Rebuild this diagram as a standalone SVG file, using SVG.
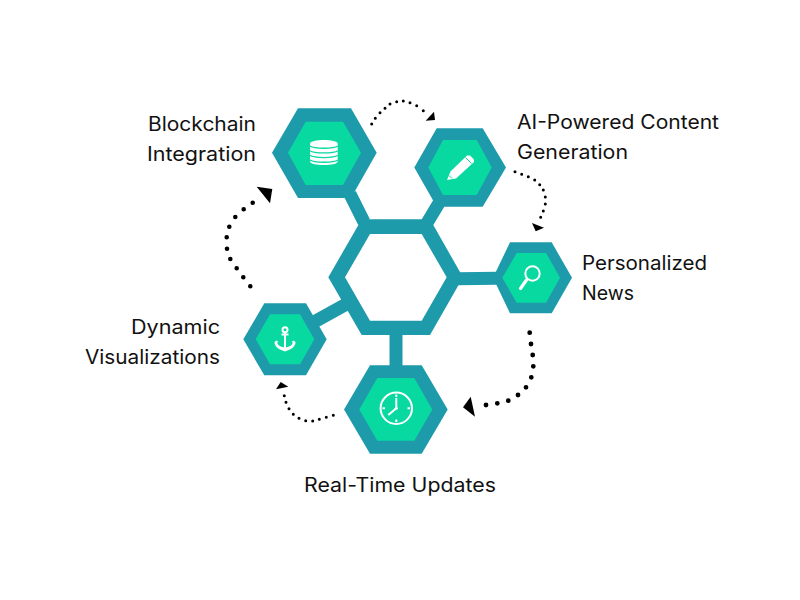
<svg xmlns="http://www.w3.org/2000/svg" width="800" height="600" viewBox="0 0 800 600">
<style>
.outer{fill:#1e9bab}
.inner{fill:#08d9a0}
.bar{stroke:#1e9bab;stroke-width:13;fill:none}
.dots{fill:none;stroke:#000;stroke-linecap:round}
.head{fill:#000}
.ico{fill:none;stroke:#fff;stroke-width:2}
.icf{fill:#fff}
.cut{fill:none;stroke:#08d9a0}
text{font-family:"Inter","Liberation Sans",sans-serif;font-size:19.5px;fill:#111}
</style>
<rect width="800" height="600" fill="#fff"/>
<g id="connectors">
<path class="bar" d="M350 194L364 222M439 203L427 223M458 278.700L497 278.300M314 322L352 301M396 330V368"/>
<path class="dots" stroke-width="3" d="M371.700 124h0M375.300 118.300h0M380 112.700h0M385 108.300h0M390 104h0M396.700 101.700h0M403.300 101h0M410 102.700h0M416.700 105.700h0M423.300 110.700h0"/>
<polygon class="head" points="425.700,120.700 434,111.700 435,120"/>
<path class="dots" stroke-width="3" d="M515 171.700h0M521.700 174.300h0M528.300 176.700h0M534.700 180h0M539.700 184.700h0M543.300 190h0M545.300 197h0M545.300 204h0M543.300 211h0M540.700 217.300h0"/>
<polygon class="head" points="532,223 544,227.700 535.700,231.300"/>
<path class="dots" stroke-width="4.800" d="M529.700 332.700h0M531 344h0M532.700 355h0M533.300 366.300h0M531.300 377.300h0M526 387.300h0M518 395h0M508.300 400.700h0M497.300 403.300h0M486 405h0"/>
<polygon class="head" points="470.700,396.700 463,407.300 475,416.700"/>
<path class="dots" stroke-width="3" d="M333.300 415.300h0M326.300 417.300h0M319.300 419.300h0M312.700 421h0M305.700 420.700h0M299 418.300h0M293.300 414.300h0M289 408.700h0M286 402.300h0M284.300 395.700h0"/>
<polygon class="head" points="276,389.300 280.700,382 288.300,386.700"/>
<path class="dots" stroke-width="4.600" d="M250.300 286.300h0M243.300 277.300h0M236.700 268.300h0M230.300 259h0M227 248.700h0M226.700 237.300h0M229.300 226.700h0M235.300 217h0M243.700 209.300h0M252.700 202.700h0"/>
<polygon class="head" points="256.700,186.700 272.300,189 270,203.300"/>
</g>
<g id="center">
<path class="outer" fill-rule="evenodd" d="M361.700 219.300H430L463 277.300L430 335H361.700L328.300 277.300ZM370 234L345 277.300L370 320.700H421.700L446.700 277.300L421.700 234Z"/>
</g>
<g id="node-blockchain">
<polygon class="outer" points="298,108.300 351,108.300 376.700,152.700 351,198 298,198 272,152.700"/>
<polygon class="inner" points="305.700,121.700 343,121.700 361,152.700 343,185 305.700,185 288,152.700"/>
<path class="icf" d="M310 143.500C310 138.800 337.700 138.800 337.700 143.500V161.500C337.700 166.200 310 166.200 310 161.500Z"/>
<path class="cut" stroke-width="1.300" d="M310 146C314 149 334 149 337.700 146M310 150.700C314 153.700 334 153.700 337.700 150.700M310 155.300C314 158.300 334 158.300 337.700 155.300M310 160C314 163 334 163 337.700 160"/>
</g>
<g id="node-ai">
<polygon class="outer" points="436.700,128.300 482.700,128.300 506,167.500 482.700,206.700 436.700,206.700 414.300,167.500"/>
<polygon class="inner" points="443,140 476.700,140 491.700,167.500 476.700,195 443,195 428.300,167.500"/>
<polygon class="icf" points="447,180 450.500,171.500 467,155.500 470,155.500 474,159.500 474,162 456,178.500"/>
<path class="cut" stroke-width="1" d="M465.500 157.500L471.500 163.500M449 175.500L452 178.500"/>
</g>
<g id="node-personalized">
<polygon class="outer" points="510,242.300 551.700,242.300 572,277.800 551.700,313.300 510,313.300 493,277.800"/>
<polygon class="inner" points="516.700,253 546,253 560,277.800 546,302.700 516.700,302.700 502.300,277.800"/>
<circle class="ico" cx="532.500" cy="273.500" r="7.200" stroke-width="2.300"/>
<path stroke="#fff" stroke-width="3.200" stroke-linecap="round" fill="none" d="M526.500 280L520.500 288.500"/>
</g>
<g id="node-dynamic">
<polygon class="outer" points="264.300,303.300 306,303.300 326.700,339.300 306,375.300 264.300,375.300 243.300,339.300"/>
<polygon class="inner" points="270,314.300 300,314.300 314.300,339.300 300,364.300 270,364.300 255.700,339.300"/>
<circle class="ico" cx="285" cy="329.700" r="2.500" stroke-width="1.600"/>
<path class="ico" stroke-width="2.400" d="M285 332V350"/>
<path class="ico" stroke-width="1.500" d="M281.500 334.500H288.500"/>
<path class="icf" d="M274.500 342L276.500 340.500L278.500 342L277.200 342.500C277.800 345.500 281 347 285 347.500C289 347 292.200 345.500 292.800 342.500L291.500 342L293.500 340.500L295.500 342C295.500 347.500 290 349.800 285 351.500C280 349.800 274.500 347.500 274.500 342Z"/>
</g>
<g id="node-realtime">
<polygon class="outer" points="370,365.300 421.700,365.300 447.700,409.500 421.700,453.700 370,453.700 344,409.500"/>
<polygon class="inner" points="377.300,378 414.300,378 432.300,409.500 414.300,440.700 377.300,440.700 359.300,409.500"/>
<circle class="ico" cx="396.300" cy="408.300" r="15.700"/>
<path class="ico" stroke-width="1.500" d="M396.300 398V408.300L388.300 415M396.300 394.500V397M396.300 419.500V422M382.500 408.300H385M407.500 408.300H410"/>
<circle class="icf" cx="396.300" cy="408.300" r="1.500"/>
</g>
<g id="labels">
<text x="148" y="130.500" textLength="108" lengthAdjust="spacingAndGlyphs">Blockchain</text>
<text x="147" y="160.500" textLength="109" lengthAdjust="spacingAndGlyphs">Integration</text>
<text x="517" y="128.500" textLength="202" lengthAdjust="spacingAndGlyphs">AI-Powered Content</text>
<text x="517" y="158.500" textLength="111" lengthAdjust="spacingAndGlyphs">Generation</text>
<text x="582" y="269.500" textLength="125" lengthAdjust="spacingAndGlyphs">Personalized</text>
<text x="582" y="299.500" textLength="52" lengthAdjust="spacingAndGlyphs">News</text>
<text x="131" y="333.500" textLength="89" lengthAdjust="spacingAndGlyphs">Dynamic</text>
<text x="85" y="363.500" textLength="135" lengthAdjust="spacingAndGlyphs">Visualizations</text>
<text x="304" y="491.500" textLength="192" lengthAdjust="spacingAndGlyphs">Real-Time Updates</text>
</g>
</svg>
